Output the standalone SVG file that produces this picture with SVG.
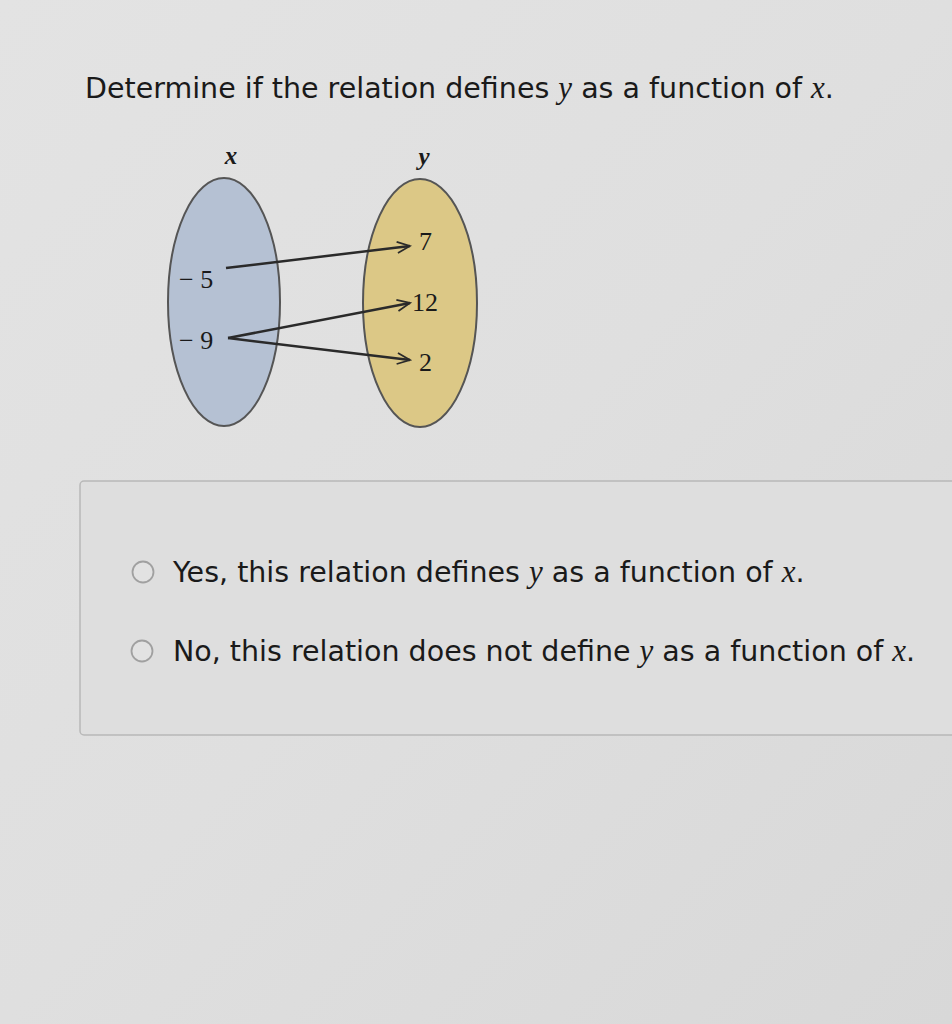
<svg xmlns="http://www.w3.org/2000/svg" width="952" height="1024" viewBox="0 0 952 1024">
<defs>
<style>
.sans{font-family:"DejaVu Sans","Liberation Sans",sans-serif;fill:#1a1a1a}
.ser{font-family:"Liberation Serif","DejaVu Serif",serif;fill:#1a1a1a}
.var{font-family:"Liberation Serif","DejaVu Serif",serif;font-style:italic}
.conn{stroke:#2a2a2a;stroke-width:2.5;fill:none;marker-end:url(#arr)}
.set{stroke:#555;stroke-width:2}
.radio{fill:#e2e2e2;stroke:#a0a0a0;stroke-width:1.8}
</style>
<marker id="arr" viewBox="0 0 20 20" refX="18" refY="10" markerWidth="16" markerHeight="16" markerUnits="userSpaceOnUse" orient="auto">
<path d="M2,3 L18,10 L2,17" fill="none" stroke="#2a2a2a" stroke-width="2.2"/>
</marker>
<linearGradient id="bg" x1="0" y1="0" x2="1" y2="1">
<stop offset="0" stop-color="#e3e3e3"/>
<stop offset="0.5" stop-color="#dfdfdf"/>
<stop offset="1" stop-color="#d8d8d8"/>
</linearGradient>
</defs>
<rect width="952" height="1024" fill="url(#bg)"/>
<g id="title">
<text class="sans" x="85" y="98" font-size="28.5">Determine if the relation defines <tspan class="var" font-size="31">y</tspan> as a function of <tspan class="var" font-size="31">x</tspan>.</text>
</g>
<g id="set-x">
<ellipse class="set" cx="224" cy="302" rx="56" ry="124" fill="#b5c1d3"/>
<text class="ser" x="231" y="164" font-size="25" font-style="italic" font-weight="bold" text-anchor="middle">x</text>
<text class="ser" x="179" y="288" font-size="26">− 5</text>
<text class="ser" x="179" y="349" font-size="26">− 9</text>
</g>
<g id="set-y">
<ellipse class="set" cx="420" cy="303" rx="57" ry="124" fill="#dcc886"/>
<text class="ser" x="424" y="165" font-size="25" font-style="italic" font-weight="bold" text-anchor="middle">y</text>
<text class="ser" x="419" y="250" font-size="26">7</text>
<text class="ser" x="412" y="311" font-size="26">12</text>
<text class="ser" x="419" y="371" font-size="26">2</text>
</g>
<g id="connectors">
<line class="conn" x1="226" y1="268" x2="410" y2="246"/>
<line class="conn" x1="228" y1="338" x2="410" y2="303"/>
<line class="conn" x1="228" y1="338" x2="410" y2="360"/>
</g>
<g id="answers">
<rect x="80" y="481" width="890" height="254" rx="4" fill="#dedede" stroke="#b8b8b8" stroke-width="1.5"/>
<g id="opt-yes">
<circle class="radio" cx="143" cy="572" r="10.5"/>
<text class="sans" x="173" y="582" font-size="28.5">Yes, this relation defines <tspan class="var" font-size="31">y</tspan> as a function of <tspan class="var" font-size="31">x</tspan>.</text>
</g>
<g id="opt-no">
<circle class="radio" cx="142" cy="651" r="10.5"/>
<text class="sans" x="173" y="661" font-size="28.5">No, this relation does not define <tspan class="var" font-size="31">y</tspan> as a function of <tspan class="var" font-size="31">x</tspan>.</text>
</g>
</g>
</svg>
